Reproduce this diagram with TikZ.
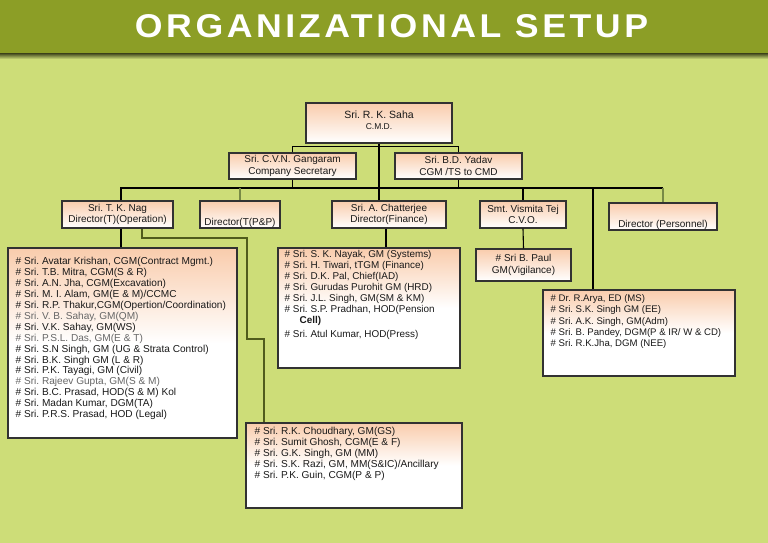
\documentclass[tikz,border=0pt]{standalone}
\usepackage{fontspec}
\setmainfont{Liberation Sans}
\usetikzlibrary{positioning,calc}
\frenchspacing

\definecolor{bandgreen}{RGB}{140,158,38}
\definecolor{bggreen}{RGB}{205,221,120}
\definecolor{peach}{RGB}{249,204,172}
\definecolor{boxline}{RGB}{50,50,50}
\definecolor{oliveline}{RGB}{80,92,28}
\definecolor{paleline}{RGB}{120,138,70}

\tikzset{
  post/.style={draw=boxline, line width=1.1pt, top color=peach, bottom color=white,
    align=center, inner sep=1pt, text=black!90, font=\fontsize{10}{11.5}\selectfont},
  lowpost/.style={post, text height=23pt, text depth=2pt},
  listbox/.style={draw=boxline, line width=1.1pt, top color=peach, bottom color=white, middle color=white},
  listtext/.style={anchor=north west, align=left, inner sep=0pt, text=black!90,
    font=\fontsize{10.1}{10.9}\selectfont},
  conn/.style={line width=1.1pt, black},
}

\begin{document}
\begin{tikzpicture}[x=1pt,y=-1pt]
    \useasboundingbox (0,0) rectangle (768,543);
    % background and title band
    \fill[bggreen] (0,0) rectangle (768,543);
    \shade[top color=black!75!bandgreen, bottom color=bggreen] (0,52) rectangle (768,59);
    \fill[bandgreen] (0,0) rectangle (768,53);
    \node[text=white, inner sep=0pt] (title) at (391.5,26.5)
        {\resizebox{513pt}{23pt}{\bfseries\addfontfeature{LetterSpace=10}ORGANIZATIONAL SETUP}};

    % posts
    \node[post, minimum width=146pt, minimum height=40pt, text depth=6pt] (cmd) at (379,123)
        {{\fontsize{10.5}{13}\selectfont Sri. R. K. Saha}\\{\fontsize{8.5}{10}\selectfont C.M.D.}};
    \node[post, minimum width=127pt, minimum height=26pt] (cs) at (292.5,166)
        {Sri. C.V.N. Gangaram\\Company Secretary};
    \node[post, minimum width=127pt, minimum height=26pt] (yadav) at (458.5,166)
        {Sri. B.D. Yadav\\CGM /TS to CMD};
    \node[post, minimum width=111pt, minimum height=27pt] (nag) at (117.5,214.5)
        {Sri. T. K. Nag\\Director(T)(Operation)};
    \node[lowpost, minimum width=80pt, minimum height=27pt] (pnp) at (240,214.5)
        {Director(T(P\&P)};
    \node[post, minimum width=114pt, minimum height=27pt] (chat) at (389,214.5)
        {Sri. A. Chatterjee\\Director(Finance)};
    \node[post, minimum width=86pt, minimum height=27pt] (vis) at (523,214.5)
        {Smt. Vismita Tej\\C.V.O.};
    \node[lowpost, minimum width=108pt, minimum height=27pt] (pers) at (663,216.5)
        {Director (Personnel)};
    \node[post, minimum width=95pt, minimum height=32pt] (paul) at (523.5,265)
        {\# Sri B. Paul\\GM(Vigilance)};

    % lists
    \node[listbox, minimum width=229pt, minimum height=190pt] (naglist) at (122.5,343) {};
    \node[listtext] (nagtext) at ([shift={(8,10)}]naglist.north west)
        {\# Sri. Avatar Krishan, CGM(Contract Mgmt.)\\
         \# Sri. T.B. Mitra, CGM(S \& R)\\
         \# Sri. A.N. Jha, CGM(Excavation)\\
         \# Sri. M. I. Alam, GM(E \& M)/CCMC\\
         \# Sri. R.P. Thakur,CGM(Opertion/Coordination)\\
         {\color{black!60}\# Sri. V. B. Sahay, GM(QM)}\\
         \# Sri. V.K. Sahay, GM(WS)\\
         {\color{black!60}\# Sri. P.S.L. Das, GM(E \& T)}\\
         \# Sri. S.N Singh, GM (UG \& Strata Control)\\
         \# Sri. B.K. Singh GM (L \& R)\\
         \# Sri. P.K. Tayagi, GM (Civil)\\
         {\color{black!60}\# Sri. Rajeev Gupta, GM(S \& M)}\\
         \# Sri. B.C. Prasad, HOD(S \& M) Kol\\
         \# Sri. Madan Kumar, DGM(TA)\\
         \# Sri. P.R.S. Prasad, HOD (Legal)};

    \node[listbox, minimum width=182pt, minimum height=120pt] (chatlist) at (369,308) {};
    \node[listtext, font=\fontsize{9.9}{10.9}\selectfont] (chattext) at ([shift={(7,3)}]chatlist.north west)
        {\# Sri. S. K. Nayak, GM (Systems)\\
         \# Sri. H. Tiwari, tTGM (Finance)\\
         \# Sri. D.K. Pal, Chief(IAD)\\
         \# Sri. Gurudas Purohit GM (HRD)\\
         \# Sri. J.L. Singh, GM(SM \& KM)\\
         \# Sri. S.P. Pradhan, HOD(Pension\\
         \hspace{15pt}\textbf{Cell)}\\[3pt]
         \# Sri. Atul Kumar, HOD(Press)};

    \node[listbox, minimum width=192pt, minimum height=86pt] (perslist) at (639,333) {};
    \node[listtext, font=\fontsize{9.6}{11.2}\selectfont] (perstext) at ([shift={(8,5)}]perslist.north west)
        {\# Dr. R.Arya, ED (MS)\\
         \# Sri. S.K. Singh GM (EE)\\
         \# Sri. A.K. Singh, GM(Adm)\\
         \# Sri. B. Pandey, DGM(P \& IR/ W \& CD)\\
         \# Sri. R.K.Jha, DGM (NEE)};

    \node[listbox, minimum width=216pt, minimum height=85pt] (botlist) at (354,465.5) {};
    \node[listtext] (bottext) at ([shift={(9,5)}]botlist.north west)
        {\# Sri. R.K. Choudhary, GM(GS)\\
         \# Sri. Sumit Ghosh, CGM(E \& F)\\
         \# Sri. G.K. Singh, GM (MM)\\
         \# Sri. S.K. Razi, GM, MM(S\&IC)/Ancillary\\
         \# Sri. P.K. Guin, CGM(P \& P)};

    % connectors
    \coordinate (busR) at (663,188);
    \coordinate (drop) at (593,188);
    \coordinate (jogA) at (247,238);
    \coordinate (jogB) at (264,339);
    \draw[conn] (cmd.south) -- (cmd.south |- chat.north);
    \draw[conn] (cs.north) -- ++(0,-6) -| (yadav.north);
    \draw[conn] (cs.south) -- (cs.south |- busR);
    \draw[conn] (yadav.south) -- (yadav.south |- busR);
    \draw[conn] ([xshift=3.5pt]nag.north) |- (busR);
    \draw[conn, paleline] (busR) -- (pers.north);
    \draw[conn, paleline] (pnp.north |- busR) -- (pnp.north);
    \draw[conn] (vis.north |- busR) -- (vis.north);
    \draw[conn] (drop) -- (drop |- perslist.north);
    \draw[conn] (vis.south) -- (paul.north);
    \draw[conn] ([xshift=3.5pt]nag.south) -- ([xshift=3.5pt]nag.south |- naglist.north);
    \draw[conn] ([xshift=-3pt]chat.south) -- ([xshift=-3pt]chat.south |- chatlist.north);
    \draw[conn, oliveline] ([xshift=24.5pt]nag.south) |- (jogA) |- (jogB) -- (jogB |- botlist.north);
\end{tikzpicture}
\end{document}
